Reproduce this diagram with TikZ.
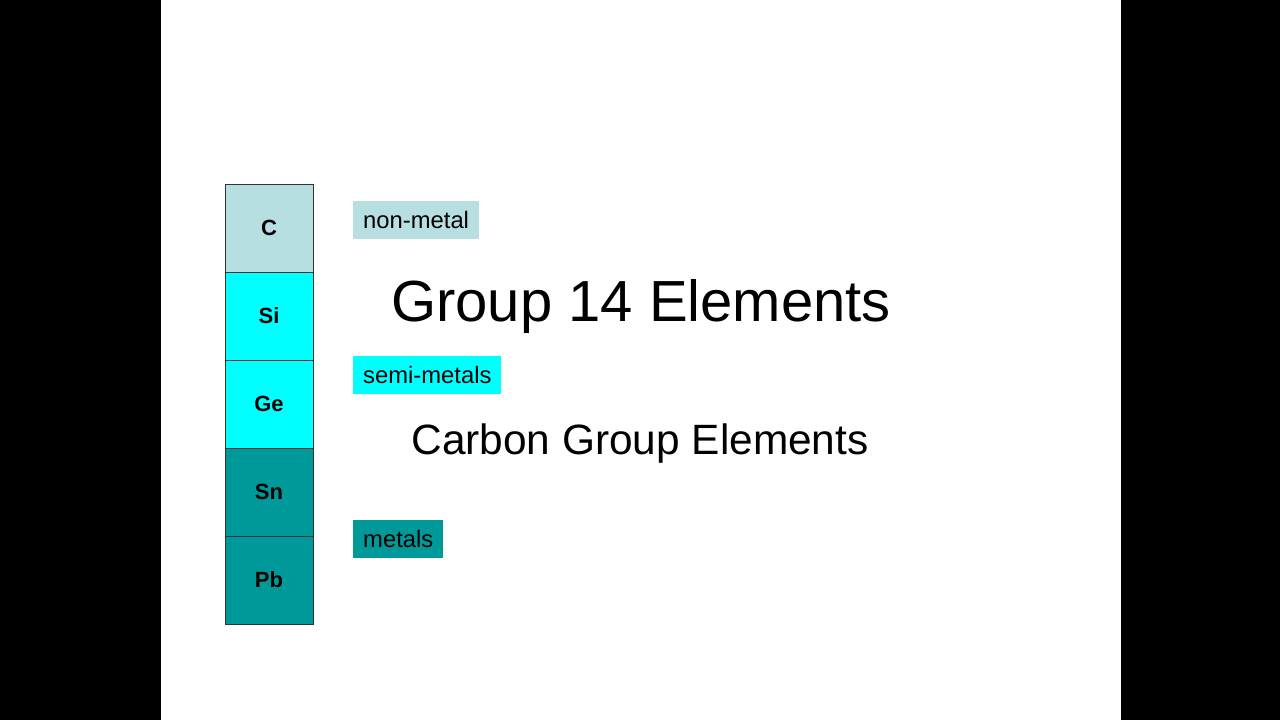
\documentclass[tikz,border=0pt]{standalone}
\usepackage{fontspec}
\setmainfont{Liberation Sans}
\usepackage{tikz}
\usetikzlibrary{positioning}

\definecolor{nonmetal}{HTML}{B7DEE1}
\definecolor{semimetal}{HTML}{00FFFF}
\definecolor{metal}{HTML}{009999}

\begin{document}
\begin{tikzpicture}[x=1pt,y=-1pt,node distance=0pt,
  cell/.style={draw=black!80,line width=0.9pt,minimum width=88pt,minimum height=88pt,
    inner sep=0pt,outer sep=0pt,font=\fontsize{22}{25}\selectfont\bfseries},
  tag/.style={anchor=west,minimum height=38pt,inner xsep=10pt,inner ysep=0pt,
    font=\fontsize{23.8}{26}\selectfont}]
  % slide
  \fill[black] (0,0) rectangle (1280,720);
  \fill[white] (161,0) rectangle (1121,720);
  \useasboundingbox (0,0) rectangle (1280,720);

  % element column
  \node[cell,fill=nonmetal] (c) at (269,228) {C};
  \node[cell,fill=semimetal,below=of c] (si) {Si};
  \node[cell,fill=semimetal,below=of si] (ge) {Ge};
  \node[cell,fill=metal,below=of ge] (sn) {Sn};
  \node[cell,fill=metal,below=of sn] (pb) {Pb};

  % labels
  \node[tag,fill=nonmetal] (nonmetal) at (353,220) {non-metal};
  \node[tag,fill=semimetal] (semimetals) at (353,375) {semi-metals};
  \node[tag,fill=metal] (metals) at (353,539) {metals};

  % titles
  \node[font=\fontsize{58}{64}\selectfont] (title) at (641,307) {Group 14 Elements};
  \node[font=\fontsize{42.4}{48}\selectfont] (subtitle) at (640,444) {Carbon Group Elements};
\end{tikzpicture}
\end{document}
